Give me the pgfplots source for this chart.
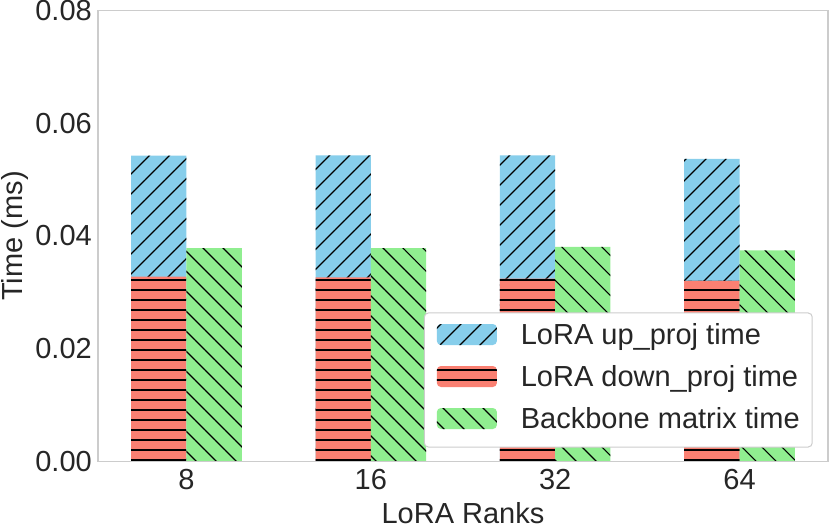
\documentclass[border=0pt]{standalone}
\usepackage{pgfplots}
\pgfplotsset{compat=1.18}
\usepackage{pgfplotstable}
\usepackage{fontspec}
\setmainfont{Liberation Sans}
\usetikzlibrary{patterns,patterns.meta}
\definecolor{upblue}{HTML}{87CEEB}
\definecolor{downred}{HTML}{FA8072}
\definecolor{bbgreen}{HTML}{90EE90}
\definecolor{framegray}{HTML}{CCCCCC}
\definecolor{textgray}{HTML}{262626}
\pgfdeclarepatternformonly{hlinesten}{\pgfpoint{-2bp}{-1bp}}{\pgfpoint{12bp}{11bp}}{\pgfpoint{10bp}{10bp}}{%
  \pgfsetlinewidth{1.2bp}%
  \pgfpathmoveto{\pgfpoint{-2bp}{5bp}}%
  \pgfpathlineto{\pgfpoint{12bp}{5bp}}%
  \pgfusepath{stroke}}
\pgfplotstableread{
idx rank down up backbone
0 8 0.03278 0.02146 0.03787
1 16 0.03267 0.02165 0.03787
2 32 0.03243 0.02189 0.03805
3 64 0.03202 0.02164 0.03746
}\datatable
\newcommand{\bigfont}{\fontsize{29bp}{34bp}\selectfont}
\begin{document}
\begin{tikzpicture}[font=\bigfont]
\begin{axis}[
  name=ax, at={(0,0)}, anchor=south west,
  scale only axis, width=730bp, height=451bp,
  xmin=-0.48, xmax=3.48, ymin=0, ymax=0.08,
  ybar, bar width=0.3,
  axis on top,
  xtick={0,1,2,3}, xticklabels={8,16,32,64},
  ytick={0,0.02,0.04,0.06,0.08},
  scaled y ticks=false,
  /pgf/number format/assume math mode=true,
  y tick label style={/pgf/number format/fixed, /pgf/number format/fixed zerofill, /pgf/number format/precision=2},
  major tick length=0pt,
  tick style={draw=none},
  tick label style={font=\bigfont, text=textgray},
  xticklabel style={inner sep=0pt, anchor=north, yshift=-8bp},
  yticklabel style={inner sep=0pt, anchor=east, xshift=-6bp},
  axis line style={draw=framegray, line width=1.25bp},
  xlabel={LoRA Ranks},
  every axis x label/.style={at={(axis description cs:0.5,-0.0909)}, anchor=north, inner sep=0pt, font=\bigfont, text=textgray},
  ylabel={Time (ms)},
  every axis y label/.style={at={(axis description cs:-0.0945,0.5)}, rotate=90, anchor=south, inner sep=0pt, font=\bigfont, text=textgray},
  legend style={at={(axis description cs:1,0)}, anchor=south east, xshift=-15.3bp, yshift=14bp,
    draw=framegray, line width=1bp, rounded corners=4bp, fill=white, inner xsep=12.5bp, inner ysep=10bp,
    row sep=12bp, column sep=24bp, font=\bigfont, text=textgray,
    cells={anchor=base west},
    nodes={inner sep=0pt, text height=21bp, text depth=9bp}},
  legend image code/.code={\path[#1, draw=none] (0bp,-1bp) rectangle (60bp,20bp);},
]
\addplot[fill=upblue, draw=none, bar shift=-0.15,
  postaction={pattern={Lines[angle=45,distance=14.14bp,line width=1.2bp]}, pattern color=black}]
  table[x=idx, y expr=\thisrow{down}+\thisrow{up}] {\datatable};
\addlegendentry{LoRA up\_proj time}
\addplot[fill=downred, draw=none, bar shift=-0.15,
  postaction={pattern=hlinesten, pattern color=black}]
  table[x=idx, y=down] {\datatable};
\addlegendentry{LoRA down\_proj time}
\addplot[fill=bbgreen, draw=none, bar shift=0.15,
  postaction={pattern={Lines[angle=-45,distance=14.14bp,line width=1.2bp]}, pattern color=black}]
  table[x=idx, y=backbone] {\datatable};
\addlegendentry{Backbone matrix time}
\end{axis}
\pgfresetboundingbox
\path[use as bounding box] (-98bp,-63.5bp) rectangle (732bp,461.5bp);
\end{tikzpicture}
\end{document}
